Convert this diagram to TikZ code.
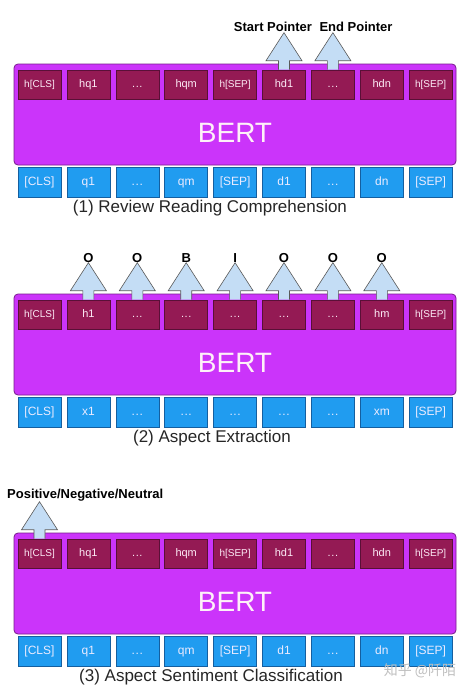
\documentclass[tikz,border=0pt]{standalone}
\usepackage{fontspec}
\setmainfont{Liberation Sans}
\newfontfamily\cjkfont{Noto Sans CJK SC}
\usetikzlibrary{positioning}
\definecolor{bertfill}{RGB}{203,52,250}
\definecolor{bertline}{RGB}{120,30,140}
\definecolor{hfill}{RGB}{148,26,84}
\definecolor{hline}{RGB}{90,15,55}
\definecolor{xfill}{RGB}{32,156,240}
\definecolor{xline}{RGB}{20,95,160}
\definecolor{afill}{RGB}{196,221,245}
\tikzset{
  bert/.style={draw=bertline,fill=bertfill,rounded corners=4pt,line width=0.8pt,minimum width=442pt,minimum height=101pt,inner sep=0pt},
  berttext/.style={text=white!94!magenta,font=\fontsize{28}{28}\selectfont},
  hbox/.style={draw=hline,fill=hfill,line width=0.6pt,minimum width=43pt,minimum height=29.5pt,inner sep=0pt,text height=7.5pt,text depth=2pt,text=white!92!magenta,font=\fontsize{11}{11}\selectfont},
  xbox/.style={draw=xline,fill=xfill,line width=0.6pt,minimum width=43pt,minimum height=30pt,inner sep=0pt,text height=8.5pt,text depth=2.5pt,text=white!92!blue,font=\fontsize{12}{12}\selectfont},
  caption/.style={text=black!85,font=\fontsize{17}{17}\selectfont},
  outlab/.style={text=black,font=\bfseries\fontsize{13}{13}\selectfont,inner sep=0pt},
  uparrow/.pic={\draw[fill=afill,draw=black!65,line width=0.6pt,line join=miter] (-5.5,0) -- (-5.5,-9) -- (-18,-9) -- (0,-37) -- (18,-9) -- (5.5,-9) -- (5.5,0);}
}
\newcommand{\hsm}[1]{{\fontsize{10}{10}\selectfont #1}}
\newcommand{\dts}{.\kern0.6pt.\kern0.6pt.}
\begin{document}
\begin{tikzpicture}[x=1pt,y=-1pt]
  \useasboundingbox[fill=white] (0,0) rectangle (471,691);
  % (1) review reading comprehension
  \node[bert] (bertA) at (235,114.5) {};
  \node[berttext] (bertAt) at (235,133) {BERT};
  \foreach \lab [count=\i from 0] in {\hsm{h[CLS]},hq1,\dts,hqm,\hsm{h[SEP]},hd1,\dts,hdn,\hsm{h[SEP]}}
    \node[hbox] (hA\i) at (39.5+48.9*\i,84.75) {\lab};
  \foreach \lab [count=\i from 0] in {[CLS],q1,\dts,qm,[SEP],d1,\dts,dn,[SEP]}
    \node[xbox] (xA\i) at (39.5+48.9*\i,182) {\lab};
  \node[caption] (capA) at (210,208) {(1) Review Reading Comprehension};
  \pic at (hA5.north) {uparrow};
  \pic at (hA6.north) {uparrow};
  \node[outlab] (startp) at (273,27) {Start Pointer};
  \node[outlab] (endp) at (356,27) {End Pointer};
  % (2) aspect extraction
  \node[bert] (bertB) at (235,344.5) {};
  \node[berttext] (bertBt) at (235,363) {BERT};
  \foreach \lab [count=\i from 0] in {\hsm{h[CLS]},h1,\dts,\dts,\dts,\dts,\dts,hm,\hsm{h[SEP]}}
    \node[hbox] (hB\i) at (39.5+48.9*\i,314.75) {\lab};
  \foreach \lab [count=\i from 0] in {[CLS],x1,\dts,\dts,\dts,\dts,\dts,xm,[SEP]}
    \node[xbox] (xB\i) at (39.5+48.9*\i,412) {\lab};
  \node[caption] (capB) at (212,438) {(2) Aspect Extraction};
  \foreach \tag [count=\i] in {O,O,B,I,O,O,O} {
    \pic at (hB\i.north) {uparrow};
    \node[outlab] (tag\i) at ([yshift=42]hB\i.north) {\tag};
  }
  % (3) aspect sentiment classification
  \node[bert] (bertC) at (235,583.5) {};
  \node[berttext] (bertCt) at (235,602) {BERT};
  \foreach \lab [count=\i from 0] in {\hsm{h[CLS]},hq1,\dts,hqm,\hsm{h[SEP]},hd1,\dts,hdn,\hsm{h[SEP]}}
    \node[hbox] (hC\i) at (39.5+48.9*\i,553.75) {\lab};
  \foreach \lab [count=\i from 0] in {[CLS],q1,\dts,qm,[SEP],d1,\dts,dn,[SEP]}
    \node[xbox] (xC\i) at (39.5+48.9*\i,651) {\lab};
  \node[caption] (capC) at (211,677) {(3) Aspect Sentiment Classification};
  \pic at (hC0.north) {uparrow};
  \node[outlab,anchor=west] (senti) at (7,495) {Positive/Negative/Neutral};
  \node[text=black!25,font=\cjkfont\fontsize{14}{14}\selectfont] (mark) at (420,671) {知乎 @阡陌};
\end{tikzpicture}
\end{document}
